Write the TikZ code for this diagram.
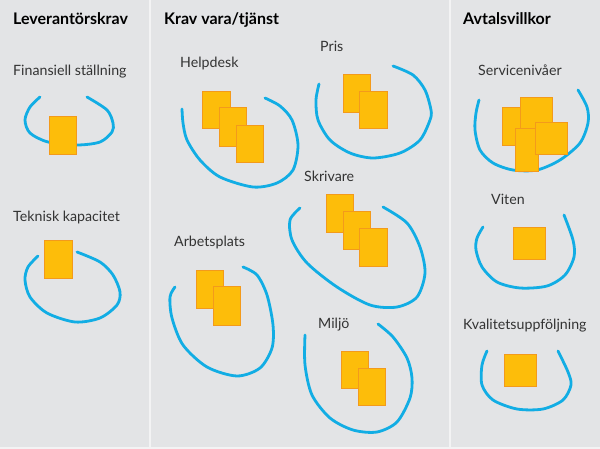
\documentclass[tikz,border=0pt]{standalone}
\usepackage{fontspec}
\setmainfont{Lato}
\usepackage{tikz}
\usetikzlibrary{positioning}
\definecolor{panel}{HTML}{E3E4E6}
\definecolor{gap}{HTML}{F3F3F4}
\definecolor{loopblue}{HTML}{12ADE4}
\definecolor{cardfill}{HTML}{FDBD0A}
\definecolor{cardline}{HTML}{F39A1B}
\definecolor{ink}{HTML}{333333}

\begin{document}
\begin{tikzpicture}[x=1pt, y=-1pt,
    head/.style = {anchor=base west, inner sep=0pt, text=black, font=\fontsize{16}{18}\selectfont\bfseries},
    lbl/.style = {anchor=base west, inner sep=0pt, text=ink, font=\fontsize{14.2}{16}\selectfont},
    card/.style = {fill=cardfill, draw=cardline, line width=1pt},
    loopline/.style = {draw=loopblue, line width=2.8pt, line cap=round}]
    \useasboundingbox (0,0) rectangle (600,449);
    \fill [gap] (0,0) rectangle (600,449);
    \fill [panel] (0,0) rectangle (149,447);
    \fill [panel] (151,0) rectangle (449,447);
    \fill [panel] (451,0) rectangle (600,447);

    % column headings
    \node [head] (lev) at (13,25) {Leverantörskrav};
    \node [head] (krav) at (164,25) {Krav vara/tjänst};
    \node [head] (avt) at (463,25) {Avtalsvillkor};

    % Leverantörskrav
    \node [lbl] (fin) at (13,76) {Finansiell ställning};
    \draw [loopline] plot [smooth] coordinates {(40,97) (30,107) (25,120) (30,133) (48,142) (77,145) (100,142) (112,132) (113,123) (107,110) (87,97)};
    \draw [card] (49,117) rectangle (76,155);

    \node [lbl] (tek) at (13,222) {Teknisk kapacitet};
    \draw [loopline] plot [smooth] coordinates {(38,256) (28,267) (25,280) (30,297) (47,313) (75,322) (100,318) (117,305) (120,292) (113,275) (100,262) (77,252)};
    \draw [card] (44,241) rectangle (72,279);

    % Krav vara/tjänst
    \node [lbl] (help) at (180,68) {Helpdesk};
    \draw [loopline] plot [smooth] coordinates {(182,109) (183,123) (187,140) (200,160) (220,177) (253,187) (277,183) (293,170) (298,145) (292,120) (280,106) (265,98)};
    \draw [card] (202,92) rectangle (230,129);
    \draw [card] (219,108) rectangle (246,147);
    \draw [card] (236,126) rectangle (263,163);

    \node [lbl] (pris) at (320,52) {Pris};
    \draw [loopline] plot [smooth] coordinates {(319,84) (316,100) (318,120) (330,140) (350,153) (373,158) (400,153) (420,140) (430,120) (431,110) (425,90) (413,75) (393,66)};
    \draw [card] (343,75) rectangle (370,113);
    \draw [card] (359,92) rectangle (387,129);

    \node [lbl] (skr) at (304,182) {Skrivare};
    \draw [loopline] plot [smooth] coordinates {(300,208) (290,220) (292,240) (307,263) (337,287) (370,305) (397,307) (417,297) (425,273) (420,247) (407,223) (383,207)};
    \draw [card] (326,195) rectangle (353,233);
    \draw [card] (343,212) rectangle (370,250);
    \draw [card] (359,229) rectangle (387,267);

    \node [lbl] (arb) at (174,247) {Arbetsplats};
    \draw [loopline] plot [smooth] coordinates {(175,287) (170,297) (172,318) (183,345) (207,367) (237,376) (260,368) (272,348) (273,325) (267,295) (257,275) (243,267)};
    \draw [card] (196,271) rectangle (223,308);
    \draw [card] (213,287) rectangle (240,325);

    \node [lbl] (milj) at (318,328) {Miljö};
    \draw [loopline] plot [smooth] coordinates {(305,335) (305,365) (312,395) (330,418) (353,430) (377,432) (397,422) (410,398) (412,378) (407,358) (393,337) (378,324)};
    \draw [card] (341,351) rectangle (368,388);
    \draw [card] (358,368) rectangle (385,405);

    % Avtalsvillkor
    \node [lbl] (serv) at (478,76) {Servicenivåer};
    \draw [loopline] plot [smooth] coordinates {(479,100) (476,113) (475,130) (480,150) (493,163) (513,170) (537,170) (560,160) (580,143) (588,123) (587,107) (578,90)};
    \draw [card] (502,108) rectangle (530,146);
    \draw [card] (520,98) rectangle (552,135);
    \draw [card] (515,129) rectangle (538,172);
    \draw [card] (535,123) rectangle (567,155);

    \node [lbl] (vit) at (491,205) {Viten};
    \draw [loopline] plot [smooth] coordinates {(483,227) (477,238) (476,250) (482,267) (497,282) (520,288) (547,286) (565,275) (574,257) (573,240) (564,215)};
    \draw [card] (513,228) rectangle (545,260);

    \node [lbl] (kval) at (463,329) {Kvalitetsuppföljning};
    \draw [loopline] plot [smooth] coordinates {(487,351) (482,365) (482,385) (493,400) (517,409) (543,409) (563,400) (571,385) (568,372) (558,351)};
    \draw [card] (504,354) rectangle (536,386);
\end{tikzpicture}
\end{document}
